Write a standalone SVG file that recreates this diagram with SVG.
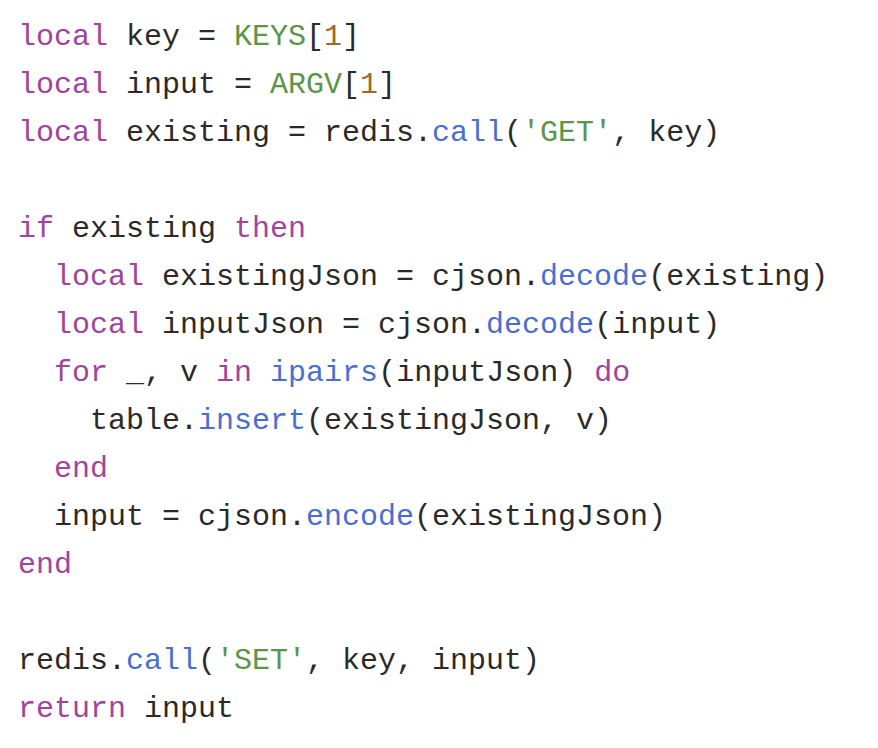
<svg xmlns="http://www.w3.org/2000/svg" width="878" height="748" viewBox="0 0 878 748">
<style>
text{font-family:"Liberation Mono","DejaVu Sans Mono",monospace;font-size:30px;fill:#2a2a2a;white-space:pre}
.k{fill:#a0449c}.s{fill:#5a9548}.n{fill:#a2662c}.f{fill:#4a6ed0}
</style>
<rect width="878" height="748" fill="#ffffff"/>
<g id="code" xml:space="preserve">
<text x="18" y="45"><tspan class="k">local</tspan> key = <tspan class="s">KEYS</tspan>[<tspan class="n">1</tspan>]</text>
<text x="18" y="93"><tspan class="k">local</tspan> input = <tspan class="s">ARGV</tspan>[<tspan class="n">1</tspan>]</text>
<text x="18" y="141"><tspan class="k">local</tspan> existing = redis.<tspan class="f">call</tspan>(<tspan class="s">'GET'</tspan>, key)</text>
<text x="18" y="237"><tspan class="k">if</tspan> existing <tspan class="k">then</tspan></text>
<text x="18" y="285">  <tspan class="k">local</tspan> existingJson = cjson.<tspan class="f">decode</tspan>(existing)</text>
<text x="18" y="333">  <tspan class="k">local</tspan> inputJson = cjson.<tspan class="f">decode</tspan>(input)</text>
<text x="18" y="381">  <tspan class="k">for</tspan> _, v <tspan class="k">in</tspan> <tspan class="f">ipairs</tspan>(inputJson) <tspan class="k">do</tspan></text>
<text x="18" y="429">    table.<tspan class="f">insert</tspan>(existingJson, v)</text>
<text x="18" y="477">  <tspan class="k">end</tspan></text>
<text x="18" y="525">  input = cjson.<tspan class="f">encode</tspan>(existingJson)</text>
<text x="18" y="573"><tspan class="k">end</tspan></text>
<text x="18" y="669">redis.<tspan class="f">call</tspan>(<tspan class="s">'SET'</tspan>, key, input)</text>
<text x="18" y="717"><tspan class="k">return</tspan> input</text>
</g>
</svg>
